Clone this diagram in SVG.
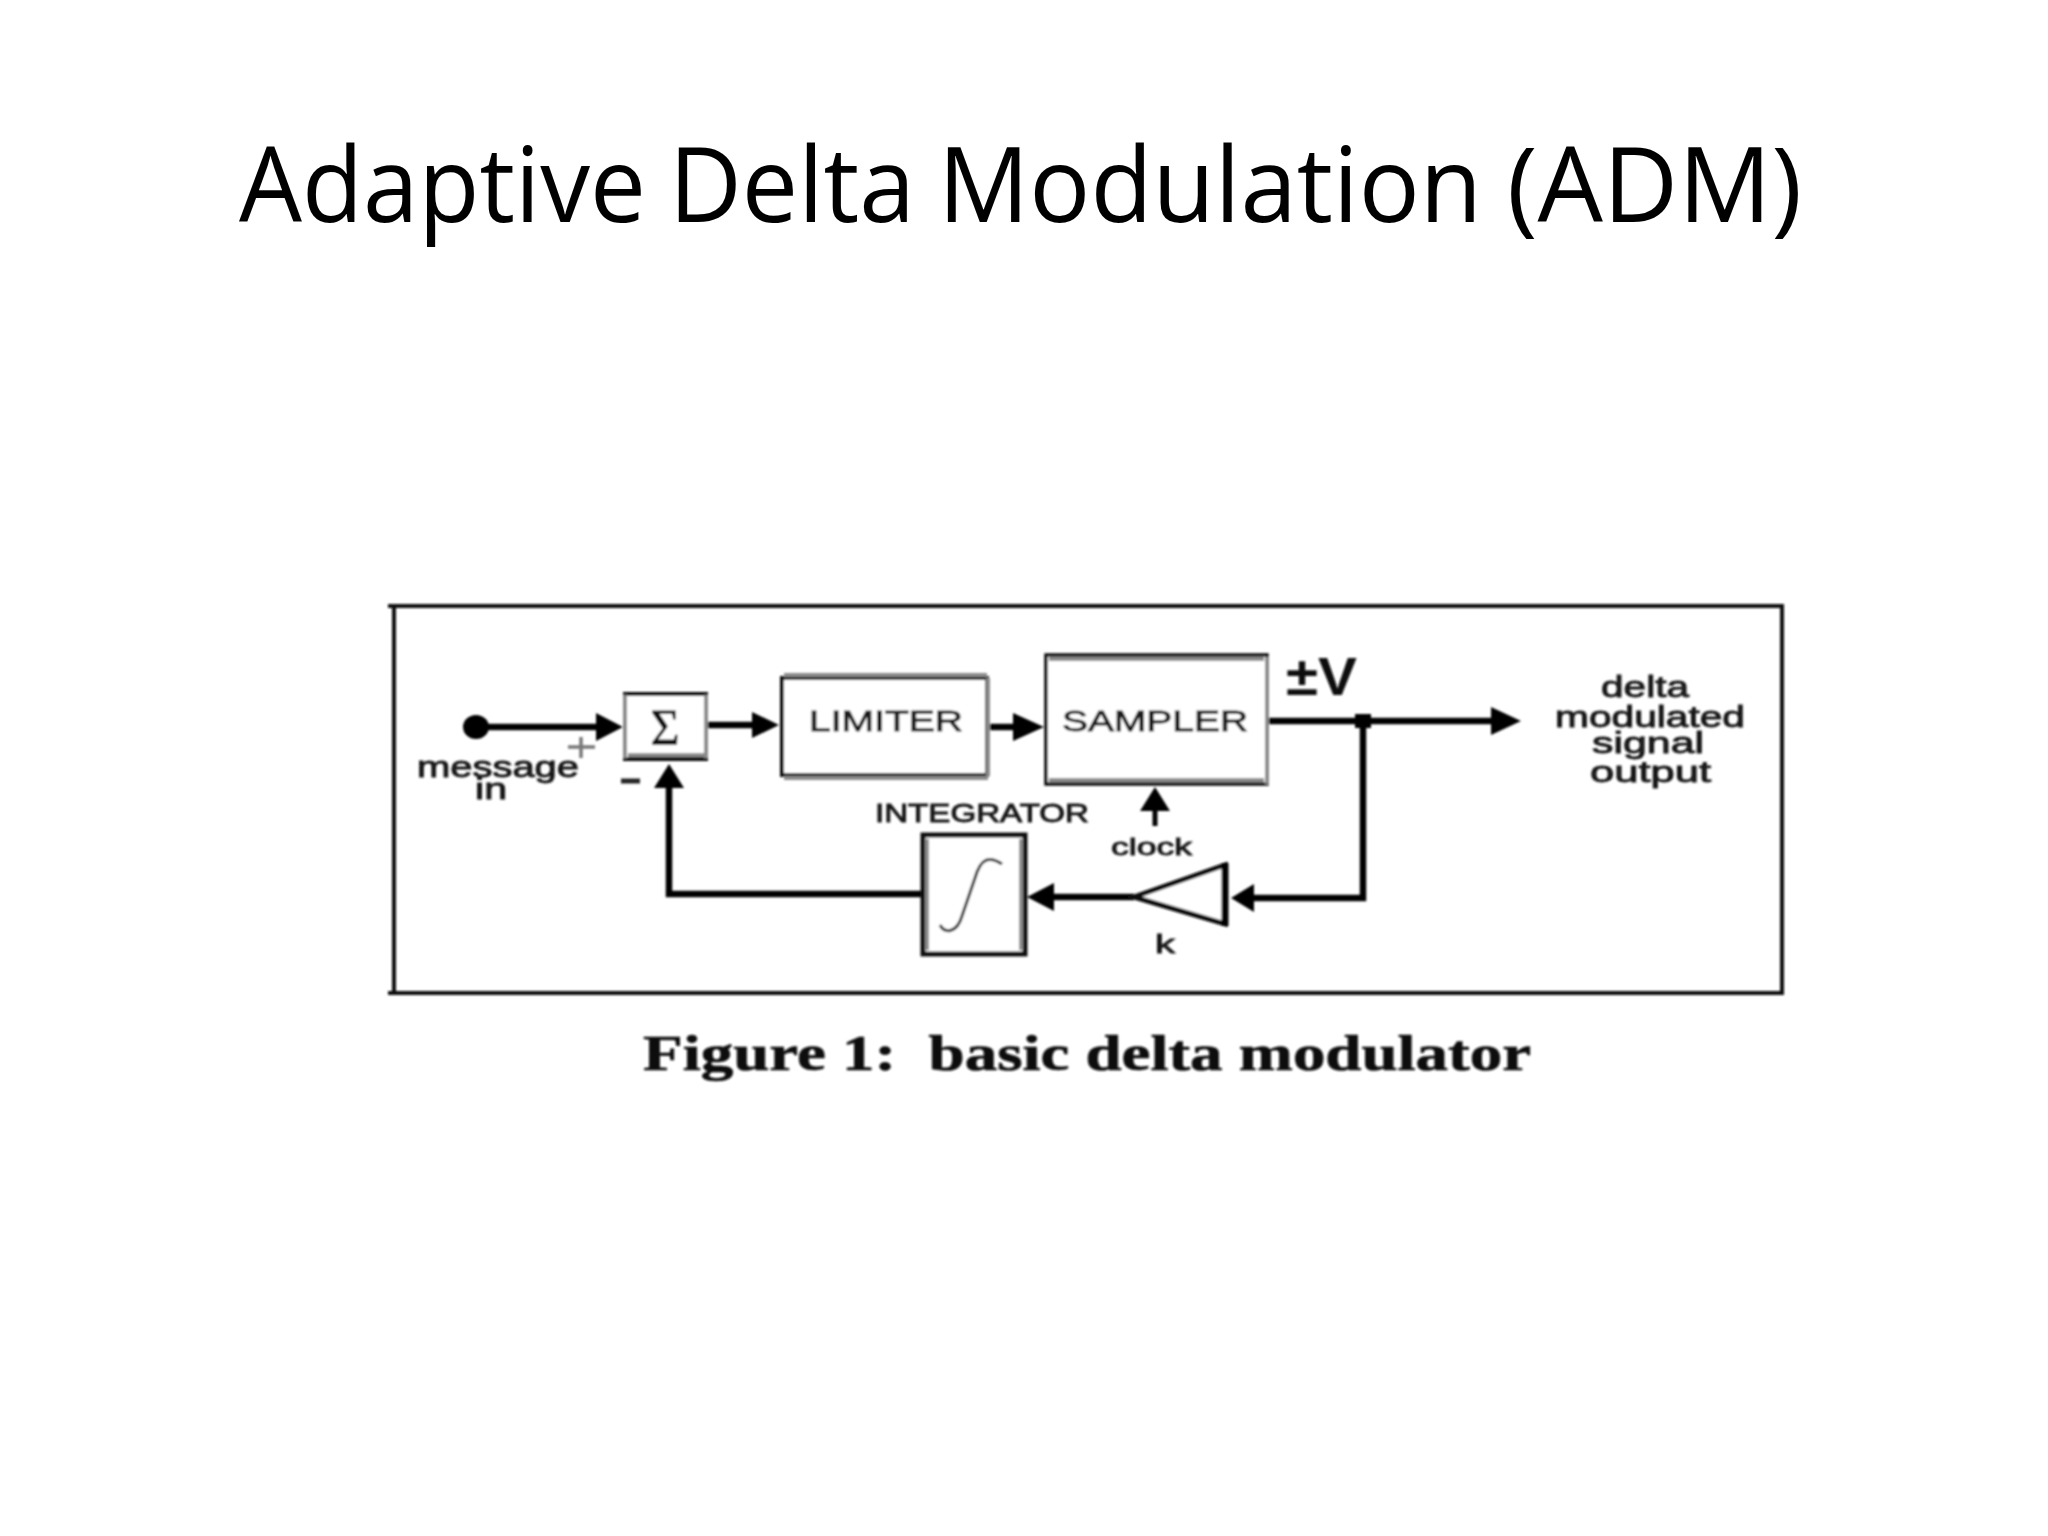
<svg xmlns="http://www.w3.org/2000/svg" width="2048" height="1536" viewBox="0 0 2048 1536">
<defs>
<style>
.box{fill:#fff;stroke:#111;stroke-width:4}
.edge{fill:none;stroke:#8a8a8a;stroke-width:4}
.wire{fill:none;stroke:#000;stroke-width:6.5}
.head{fill:#000;stroke:none}
.lbl{font-family:"Liberation Sans",Arial,sans-serif;fill:#1a1a1a;stroke:#1a1a1a;stroke-width:.9;text-anchor:start}
</style>
<filter id="soft" x="-5%" y="-5%" width="110%" height="110%"><feGaussianBlur stdDeviation="0.9"/></filter>
</defs>
<rect width="2048" height="1536" fill="#fff"/>
<text id="title" y="222" font-family="'Open Sans','Noto Sans',sans-serif" font-size="105" fill="#000"><tspan x="239" textLength="407" lengthAdjust="spacingAndGlyphs">Adaptive</tspan> <tspan x="669" textLength="246" lengthAdjust="spacingAndGlyphs">Delta</tspan> <tspan x="938" textLength="544" lengthAdjust="spacingAndGlyphs">Modulation</tspan> <tspan x="1507" textLength="295" lengthAdjust="spacingAndGlyphs">(ADM)</tspan></text>
<g id="figure" filter="url(#soft)">
<g id="frame"><path d="M388 606H1782V993H388M394 606V993" fill="none" stroke="#111" stroke-width="4"/></g>
<g id="connectors">
<ellipse cx="476" cy="727" rx="13" ry="12" class="head"/>
<path class="wire" d="M476 727H600"/><path class="head" d="M596 713L623 727L596 741Z"/>
<path class="wire" d="M707 725H757"/><path class="head" d="M752 712L779 725L752 738Z"/>
<path class="wire" d="M988 727H1018"/><path class="head" d="M1013 713L1044 727L1013 741Z"/>
<path class="wire" d="M1267 721H1496"/><path class="head" d="M1491 707L1521 721L1491 735Z"/>
<rect x="1355" y="714" width="16" height="14" class="head"/>
<path class="wire" d="M1363 721V898H1249"/><path class="head" d="M1254 884L1231 898L1254 912Z"/>
<path class="wire" d="M1134 897H1049"/><path class="head" d="M1054 883L1027 897L1054 911Z"/>
<path class="wire" d="M925 894H669V783"/><path class="head" d="M654 788L669 764L684 788Z"/>
<path class="wire" style="stroke-width:5" d="M1155 826V806"/><path class="head" d="M1140 811L1155 787L1170 811Z"/>
</g>
<g id="sum">
<rect class="box" x="625" y="694" width="81" height="65"/>
<path class="edge" d="M625 695V758M706 695V758M628 755H704"/>
<text x="665" y="744" font-family="'Liberation Serif',serif" font-size="50" text-anchor="middle" fill="#111" stroke="#111" stroke-width=".8">Σ</text>
</g>
<g id="limiter">
<rect class="box" x="782" y="678" width="205" height="97"/>
<path class="edge" d="M784 675H987M988 678V776M784 778H988"/>
<text class="lbl" x="809" y="731" font-size="30" textLength="154" lengthAdjust="spacingAndGlyphs">LIMITER</text>
</g>
<g id="sampler">
<rect class="box" x="1046" y="655" width="221" height="129" style="stroke-width:3.5"/>
<path class="edge" d="M1049 659H1264M1049 780H1264M1267 657V784"/>
<text class="lbl" x="1062" y="731" font-size="30" textLength="186" lengthAdjust="spacingAndGlyphs">SAMPLER</text>
</g>
<g id="integrator">
<rect class="box" x="923" y="835" width="102" height="119" style="stroke-width:5"/>
<path class="edge" d="M927 839V950M1021 839V950"/>
<path d="M940 925C945 934 957 933 962 916L975 878C981 857 990 856 1002 864" fill="none" stroke="#333" stroke-width="3"/>
<text class="lbl" x="875" y="822" font-size="25" textLength="214" lengthAdjust="spacingAndGlyphs">INTEGRATOR</text>
</g>
<g id="gain">
<path d="M1225 865V924L1134 897Z" fill="#fff" stroke="#111" stroke-width="5"/>
<path d="M1225 863V926" stroke="#000" stroke-width="7"/>
<text class="lbl" x="1155" y="953" font-size="26" textLength="20" lengthAdjust="spacingAndGlyphs">k</text>
</g>
<g id="labels">
<text class="lbl" x="417" y="777" font-size="29" textLength="162" lengthAdjust="spacingAndGlyphs">message</text>
<text class="lbl" x="475" y="799" font-size="29" textLength="32" lengthAdjust="spacingAndGlyphs">in</text>
<path d="M568 747H595M581 737V758" stroke="#777" stroke-width="3.5" fill="none"/>
<path d="M621 781H640" stroke="#222" stroke-width="5" fill="none"/>
<text class="lbl" x="1111" y="855" font-size="24" textLength="81" lengthAdjust="spacingAndGlyphs">clock</text>
<text x="1286" y="695" font-family="'Liberation Sans',Arial,sans-serif" font-weight="bold" font-size="53" fill="#111" textLength="71" lengthAdjust="spacingAndGlyphs">±V</text>
<text class="lbl" x="1601" y="697" font-size="29" textLength="88" lengthAdjust="spacingAndGlyphs">delta</text>
<text class="lbl" x="1555" y="727" font-size="29" textLength="190" lengthAdjust="spacingAndGlyphs">modulated</text>
<text class="lbl" x="1592" y="753" font-size="29" textLength="112" lengthAdjust="spacingAndGlyphs">signal</text>
<text class="lbl" x="1590" y="782" font-size="29" textLength="121" lengthAdjust="spacingAndGlyphs">output</text>
</g>
<text id="caption" x="643" y="1070" font-family="'Liberation Serif',serif" font-weight="bold" font-size="50" fill="#111" stroke="#111" stroke-width=".7" textLength="888" lengthAdjust="spacingAndGlyphs" style="white-space:pre">Figure 1:  basic delta modulator</text>
</g>
</svg>
